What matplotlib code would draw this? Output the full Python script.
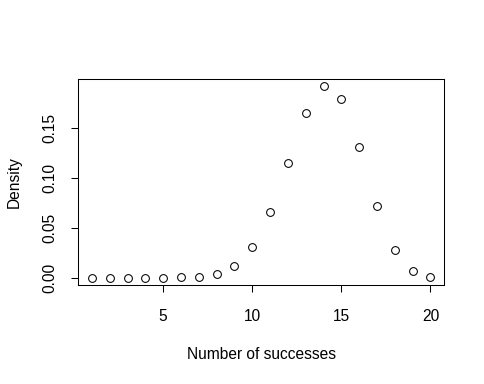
import matplotlib
matplotlib.use("Agg")
import matplotlib.pyplot as plt

# values (successes 1..20)
successes = list(range(1, 21))
density = [0.0, 0.0, 0.0, 0.000005, 0.00004, 0.0002, 0.001, 0.0039,
           0.012, 0.0308, 0.0654, 0.1144, 0.1643, 0.1916, 0.1789,
           0.1304, 0.0716, 0.0279, 0.0068, 0.0008]
x_ticks = [5, 10, 15, 20]
y_ticks = [0.00, 0.05, 0.10, 0.15]
y_tick_labels = ["0.00", "0.05", "0.10", "0.15"]

plt.rcParams['font.family'] = ['Liberation Sans', 'DejaVu Sans']
fs = 11.2

fig = plt.figure(figsize=(4.85, 3.84), dpi=100)
ax = fig.add_axes([0.1615, 0.257, 0.754, 0.5385])

ax.plot(successes, density, linestyle='none', marker='o', markersize=5.6,
        markerfacecolor='none', markeredgecolor='black', markeredgewidth=0.75)

# R style 4% padding
xr = max(successes) - min(successes)
ax.set_xlim(min(successes) - 0.04 * xr, max(successes) + 0.04 * xr)
yr = max(density) - min(density)
ax.set_ylim(min(density) - 0.04 * yr, max(density) + 0.04 * yr)

ax.set_xticks(x_ticks)
ax.set_xticklabels([str(t) for t in x_ticks], fontsize=fs)
ax.set_yticks(y_ticks)
ax.set_yticklabels(y_tick_labels, fontsize=fs, rotation=90, va='center')
ax.tick_params(length=5.2, width=0.75)
ax.tick_params(axis='x', pad=11.5)
ax.tick_params(axis='y', pad=10)

for s in ax.spines.values():
    s.set_linewidth(0.75)

ax.set_xlabel("Number of successes", fontsize=fs, labelpad=17)
ax.set_ylabel("Density", fontsize=fs, labelpad=15)

fig.savefig("out.png", dpi=100)
